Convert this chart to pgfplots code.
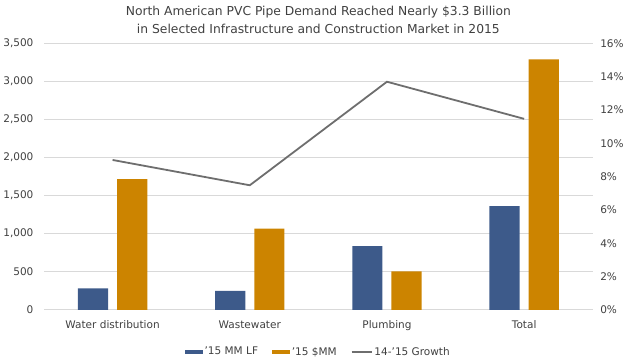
\documentclass[border=0pt]{standalone}
\usepackage{pgfplots}
\pgfplotsset{compat=1.18}
\usepackage{fontspec}
\setmainfont{DejaVu Sans}
\definecolor{cblue}{HTML}{3D5A8A}
\definecolor{corange}{HTML}{CC8400}
\definecolor{cline}{HTML}{6E6E6E}
\definecolor{cgrid}{HTML}{D9D9D9}
\definecolor{ctext}{HTML}{404040}
\begin{document}
\begin{tikzpicture}[font=\fontsize{10.5}{12}\selectfont]
\begin{axis}[
  scale only axis, width=546bp, height=265bp,
  xmin=-0.5, xmax=3.5, ymin=0, ymax=3500,
  ytick={0,500,...,3500},
  xtick={0,1,2,3},
  xticklabels={Water distribution,Wastewater,Plumbing,Total},
  major tick length=0pt,
  ymajorgrids, grid style={cgrid, line width=0.8pt},
  axis x line*=bottom, axis y line*=left,
  x axis line style={cgrid, line width=0.8pt, -},
  y axis line style={draw=none},
  /pgf/number format/.cd, 1000 sep={,}, assume math mode=true,
  /pgfplots/.cd,
  ticklabel style={text=ctext},
  yticklabel style={xshift=-7bp},
  xticklabel style={yshift=-7bp},
  ybar=9bp, bar width=30bp,
  legend style={draw=none, at={(0.5,-0.158)}, anchor=center, legend columns=3, text=ctext,
    /tikz/every even column/.append style={column sep=12bp}},
  legend image code/.code={\draw[#1, draw=none] (0cm,-0.075cm) rectangle (0.62cm,0.075cm);},
  title style={align=center, text=ctext, font=\fontsize{12.3}{18}\selectfont, yshift=0bp},
  title={North American PVC Pipe Demand Reached Nearly \$3.3 Billion\\in Selected Infrastructure and Construction Market in 2015},
]
\addplot[fill=cblue, draw=none] coordinates {(0,280) (1,250) (2,836) (3,1362)};
\addlegendentry{'15 MM LF}
\addplot[fill=corange, draw=none] coordinates {(0,1717) (1,1068) (2,503) (3,3290)};
\addlegendentry{'15 \$MM}
\addlegendimage{legend image code/.code={\draw[cline, line width=1.8pt] (0cm,0cm) -- (0.7cm,0cm);}}
\addlegendentry{14-'15 Growth}
\end{axis}
\begin{axis}[
  scale only axis, width=546bp, height=265bp,
  xmin=-0.5, xmax=3.5, ymin=0, ymax=16,
  ytick={0,2,...,16},
  yticklabel={\pgfmathprintnumber{\tick}\%},
  axis x line=none, axis y line*=right,
  y axis line style={draw=none},
  major tick length=0pt,
  /pgf/number format/assume math mode=true,
  ticklabel style={text=ctext},
  yticklabel style={xshift=4bp},
]
\addplot[cline, line width=1.8pt] coordinates {(0,9.0) (1,7.48) (2,13.7) (3,11.47)};
\end{axis}
\path (current bounding box.north) ++(0,3bp) coordinate (padtop);
\path (padtop);
\end{tikzpicture}
\end{document}
